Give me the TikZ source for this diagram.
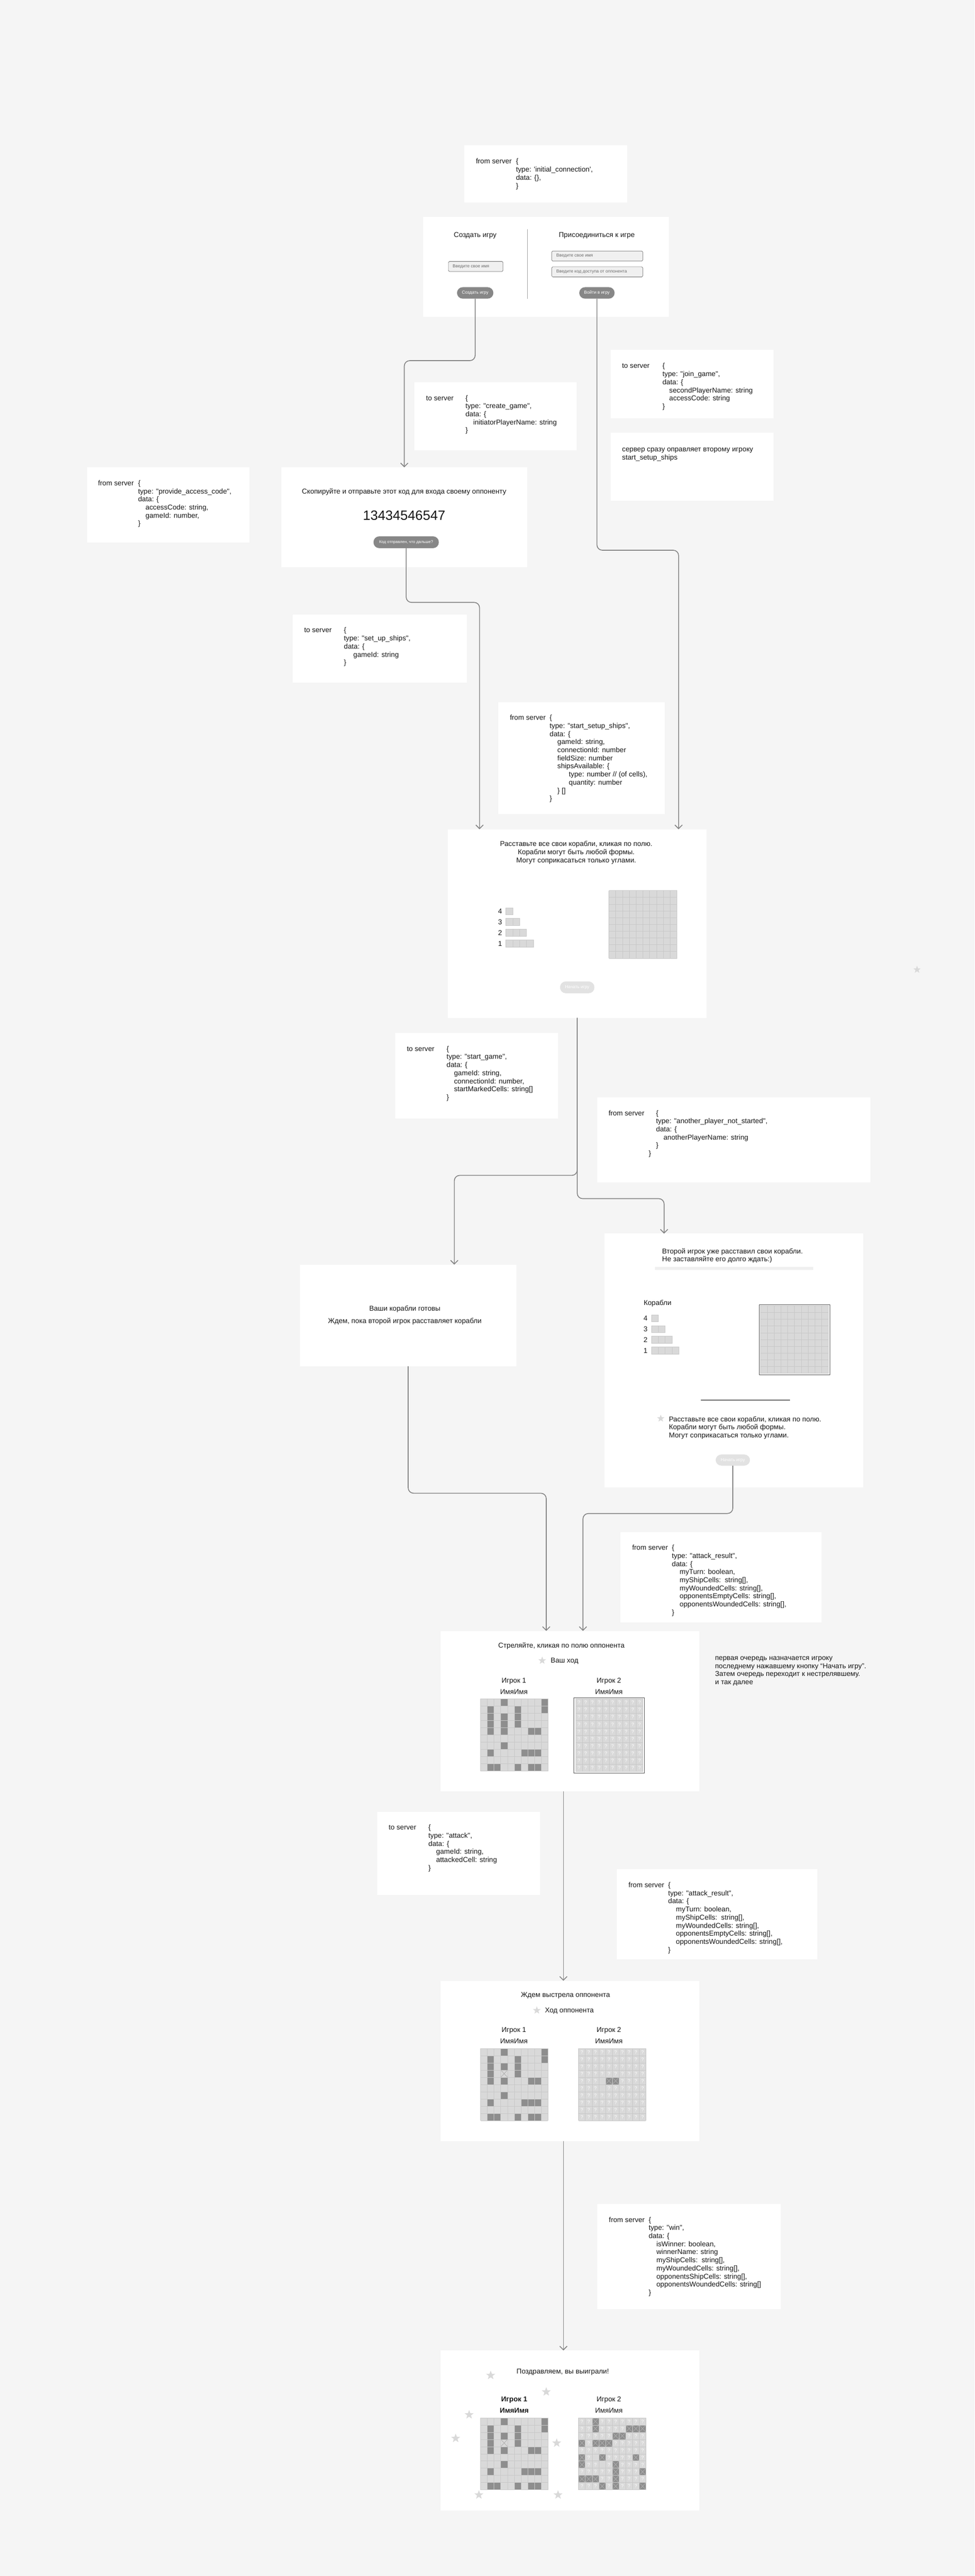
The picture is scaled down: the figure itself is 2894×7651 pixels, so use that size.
\documentclass[tikz,border=0pt]{standalone}
\usepackage{fontspec}
\newfontfamily\cf{Liberation Sans}
\usetikzlibrary{arrows.meta,shapes.geometric}
\definecolor{bgc}{HTML}{F5F5F5}
\definecolor{linec}{HTML}{858585}
\definecolor{btnc}{HTML}{878787}
\definecolor{lbtnc}{HTML}{E2E2E2}
\definecolor{cellc}{HTML}{D9D9D9}
\definecolor{glc}{HTML}{C8C8C8}
\definecolor{darkc}{HTML}{8E8E8E}
\definecolor{xdc}{HTML}{B4B4B4}
\definecolor{xlc}{HTML}{A8A8A8}
\definecolor{inpc}{HTML}{F0F0F0}
\definecolor{phc}{HTML}{6B6B6B}
\definecolor{starc}{HTML}{D9D9D9}
\definecolor{borderc}{HTML}{555555}
\definecolor{txtc}{HTML}{161616}
\definecolor{divc}{HTML}{A0A0A0}
\newcommand\I[1]{\hspace*{#1pt}}
\newcommand\cellat[3]{%
 \pgfmathsetmacro\cxa{\gx+(#2)*\cw}%
 \pgfmathsetmacro\cya{\gy+(#1)*\ch}%
 \pgfmathsetmacro\cxb{\cxa+\cw}%
 \pgfmathsetmacro\cyb{\cya+\ch}%
 \ifcase#3\relax
  \node[qm] (\gid-#1-#2) at ({(\cxa+\cxb)/2},{(\cya+\cyb)/2}) {?};%
 \or
  \fill[darkc] (\cxa,\cya) rectangle (\cxb,\cyb);
  \draw[xd] (\cxa,\cya) -- (\cxb,\cyb) (\cxb,\cya) -- (\cxa,\cyb);%
 \or
 \or
  \fill[darkc] (\cxa,\cya) rectangle (\cxb,\cyb);%
 \or
  \draw[xl] (\cxa,\cya) -- (\cxb,\cyb) (\cxb,\cya) -- (\cxa,\cyb);%
 \fi}
\newcommand\gridsetup[5]{\def\gid{#1}\def\gx{#2}\def\gy{#3}\def\cw{#4}\def\ch{#5}%
 \fill[cellc] (\gx,\gy) rectangle ++({10*\cw},{10*\ch});}
\newcommand\gridcells[1]{\foreach \rv [count=\ii from 0] in #1 {\foreach \cv [count=\jj from 0] in \rv {\cellat{\ii}{\jj}{\cv}}}}
\newcommand\allq{\foreach \ii in {0,...,9}{\foreach \jj in {0,...,9}{\cellat{\ii}{\jj}{0}}}}
\newcommand\gridlines{\foreach \k in {0,...,10}{\draw[gl] ({\gx+\k*\cw},\gy) -- ++(0,{10*\ch}); \draw[gl] (\gx,{\gy+\k*\ch}) -- ++({10*\cw},0);}}
\newcommand\shipcells[4]{%
 \foreach \k in {1,...,#3}{\fill[cellc] ({#1+(\k-1)*#4},#2) rectangle ++(#4,#4);}
 \draw[gl] (#1,#2) rectangle ++({#3*#4},#4);
 \foreach \k in {1,...,#3}{\draw[gl] ({#1+\k*#4},#2) -- ++(0,#4);}}
\def\pone{{2,2,2,3,2,2,2,2,2,3},{2,3,2,2,2,3,2,2,2,3},{2,3,2,3,2,3,2,2,2,2},{2,3,2,3,2,3,2,2,2,2},{2,3,2,3,2,2,2,3,3,2},{2,2,2,2,2,2,2,2,2,2},{2,2,2,3,2,2,2,2,2,2},{2,3,2,2,2,2,3,3,3,2},{2,2,2,2,2,2,2,2,2,2},{2,3,3,2,2,3,2,3,3,2}}
\def\ponex{{2,2,2,3,2,2,2,2,2,3},{2,3,2,2,2,3,2,2,2,3},{2,3,2,3,2,3,2,2,2,2},{2,3,2,4,2,3,2,2,2,2},{2,3,2,3,2,2,2,3,3,2},{2,2,2,2,2,2,2,2,2,2},{2,2,2,3,2,2,2,2,2,2},{2,3,2,2,2,2,3,3,3,2},{2,2,2,2,2,2,2,2,2,2},{2,3,3,2,2,3,2,3,3,2}}
\def\ptwow{{0,0,0,0,0,0,0,0,0,0},{0,0,0,0,0,0,0,0,0,0},{0,0,0,0,0,0,0,0,0,0},{0,0,0,0,0,0,0,0,0,0},{0,0,0,2,1,1,0,0,0,0},{0,0,0,2,0,0,0,0,0,0},{0,0,0,0,0,0,0,0,0,0},{0,0,0,0,0,0,0,0,0,0},{0,0,0,0,0,0,0,0,0,0},{0,0,0,0,0,0,0,0,0,0}}
\def\ptwof{{0,0,1,0,0,0,0,0,0,0},{0,0,1,0,0,0,0,1,1,1},{0,0,0,0,0,1,1,0,0,0},{1,0,1,1,1,0,0,0,0,0},{0,0,0,0,0,0,0,0,0,0},{1,0,2,1,0,0,0,0,1,0},{1,0,0,2,0,1,0,0,0,0},{0,0,0,0,0,1,0,0,0,1},{1,1,1,0,0,1,0,0,0,0},{0,0,0,1,0,1,0,0,0,1}}
\tikzset{
 box/.style={fill=white,draw=none,inner sep=0pt,outer sep=0pt,anchor=north west},
 codet/.style={font=\cf\fontsize{21}{24}\selectfont,inner sep=0pt,anchor=base west,text=txtc},
 scrt/.style={font=\cf\fontsize{21}{24}\selectfont,inner sep=0pt,text=txtc},
 btn/.style={fill=btnc,text=white,font=\cf\fontsize{13}{13}\selectfont,rounded corners=17pt,inner sep=0pt},
 lbtn/.style={fill=lbtnc,text=white,font=\cf\fontsize{13}{13}\selectfont,rounded corners=17pt,inner sep=0pt},
 inp/.style={fill=inpc,draw=phc,line width=1pt,rounded corners=3pt,inner sep=0pt,anchor=north west},
 ph/.style={font=\cf\fontsize{13}{13}\selectfont,text=phc,inner sep=0pt,anchor=west},
 conn/.style={draw=linec,line width=2.5pt,rounded corners=16pt,-{Straight Barb[length=11pt,width=22pt]}},
 starn/.style={star,star points=5,star point ratio=2.4,fill=starc,draw=none,inner sep=0pt},
 qm/.style={font=\cf\fontsize{14}{14}\selectfont,text=white,inner sep=0pt},
 gl/.style={draw=glc,line width=1pt},
 xd/.style={draw=xdc,line width=1pt},
 xl/.style={draw=xlc,line width=1pt},
}
\begin{document}
\begin{tikzpicture}[x=1pt,y=-1pt]
\path[use as bounding box] (0,0) rectangle (2894,7651);
\fill[bgc] (0,0) rectangle (2894,7651);

% ---------- boxes ----------
\node[box,minimum width=483pt,minimum height=170pt] (b0) at (1379,432) {};
\node[box,minimum width=730pt,minimum height=297pt] (smain) at (1256,644) {};
\node[box,minimum width=481pt,minimum height=202pt] (b1) at (1231,1135) {};
\node[box,minimum width=484pt,minimum height=203pt] (b2) at (1813,1039) {};
\node[box,minimum width=484pt,minimum height=202pt] (b3) at (1813,1286) {};
\node[box,minimum width=482pt,minimum height=224pt] (b4) at (259,1388) {};
\node[box,minimum width=729pt,minimum height=297pt] (access) at (836,1388) {};
\node[box,minimum width=517pt,minimum height=203pt] (b6) at (869,1825) {};
\node[box,minimum width=494pt,minimum height=332pt] (b7) at (1480,2085) {};
\node[box,minimum width=768pt,minimum height=560pt] (setup) at (1330,2463) {};
\node[box,minimum width=483pt,minimum height=254pt] (b9) at (1174,3068) {};
\node[box,minimum width=811pt,minimum height=253pt] (b10) at (1774,3259) {};
\node[box,minimum width=644pt,minimum height=302pt] (ready) at (890,3756) {};
\node[box,minimum width=768pt,minimum height=754pt] (p2s) at (1795,3664) {};
\node[box,minimum width=596pt,minimum height=268pt] (b13) at (1843,4550) {};
\node[box,minimum width=768pt,minimum height=476pt] (attack) at (1308,4844) {};
\node[box,minimum width=483pt,minimum height=247pt] (b15) at (1120,5381) {};
\node[box,minimum width=595pt,minimum height=268pt] (b16) at (1832,5552) {};
\node[box,minimum width=768pt,minimum height=476pt] (wait) at (1308,5883) {};
\node[box,minimum width=544pt,minimum height=312pt] (b18) at (1774,6546) {};
\node[box,minimum width=768pt,minimum height=475pt] (final) at (1308,6981) {};

% ---------- code texts ----------
\node[codet,font=\cf\fontsize{21}{24.5}\selectfont] (t0) at (1413,486) {\begin{tabular}[t]{@{}l@{}}
\makebox[119pt][l]{from server}\{\\
\I{119}type: 'initial\_connection',\\
\I{119}data: \{\},\\
\I{119}\}
\end{tabular}};
\node[codet] (t1) at (1265,1189) {\begin{tabular}[t]{@{}l@{}}
\makebox[117pt][l]{to server}\{\\
\I{117}type: "create\_game",\\
\I{117}data: \{\\
\I{140}initiatorPlayerName: string\\
\I{117}\}
\end{tabular}};
\node[codet] (t2) at (1847,1094) {\begin{tabular}[t]{@{}l@{}}
\makebox[120pt][l]{to server}\{\\
\I{120}type: "join\_game",\\
\I{120}data: \{\\
\I{140}secondPlayerName: string\\
\I{140}accessCode: string\\
\I{120}\}
\end{tabular}};
\node[codet] (t3) at (1847,1341) {\begin{tabular}[t]{@{}l@{}}
сервер сразу оправляет второму игроку\\
start\_setup\_ships
\end{tabular}};
\node[codet] (t4) at (291,1442) {\begin{tabular}[t]{@{}l@{}}
\makebox[119pt][l]{from server}\{\\
\I{119}type: "provide\_access\_code",\\
\I{119}data: \{\\
\I{141}accessCode: string,\\
\I{141}gameId: number,\\
\I{119}\}
\end{tabular}};
\node[codet] (t6) at (903,1879) {\begin{tabular}[t]{@{}l@{}}
\makebox[118pt][l]{to server}\{\\
\I{118}type: "set\_up\_ships",\\
\I{118}data: \{\\
\I{146}gameId: string\\
\I{118}\}
\end{tabular}};
\node[codet] (t7) at (1514,2139) {\begin{tabular}[t]{@{}l@{}}
\makebox[118pt][l]{from server}\{\\
\I{118}type: "start\_setup\_ships",\\
\I{118}data: \{\\
\I{141}gameId: string,\\
\I{141}connectionId: number\\
\I{141}fieldSize: number\\
\I{141}shipsAvailable: \{\\
\I{175}type: number // (of cells),\\
\I{175}quantity: number\\
\I{141}\} []\\
\I{118}\}
\end{tabular}};
\node[codet] (t9) at (1208,3122) {\begin{tabular}[t]{@{}l@{}}
\makebox[118pt][l]{to server}\{\\
\I{118}type: "start\_game",\\
\I{118}data: \{\\
\I{140}gameId: string,\\
\I{140}connectionId: number,\\
\I{140}startMarkedCells: string[]\\
\I{118}\}
\end{tabular}};
\node[codet] (t10) at (1807,3313) {\begin{tabular}[t]{@{}l@{}}
\makebox[141pt][l]{from server}\{\\
\I{141}type: "another\_player\_not\_started",\\
\I{141}data: \{\\
\I{163}anotherPlayerName: string\\
\I{141}\}\\
\I{119}\}
\end{tabular}};
\node[codet] (t13) at (1877,4604) {\begin{tabular}[t]{@{}l@{}}
\makebox[118pt][l]{from server}\{\\
\I{118}type: "attack\_result",\\
\I{118}data: \{\\
\I{141}myTurn: boolean,\\
\I{141}myShipCells:\ \ string[],\\
\I{141}myWoundedCells: string[],\\
\I{141}opponentsEmptyCells: string[],\\
\I{141}opponentsWoundedCells: string[],\\
\I{118}\}
\end{tabular}};
\node[codet] (t15) at (1154,5435) {\begin{tabular}[t]{@{}l@{}}
\makebox[118pt][l]{to server}\{\\
\I{118}type: "attack",\\
\I{118}data: \{\\
\I{141}gameId: string,\\
\I{141}attackedCell: string\\
\I{118}\}
\end{tabular}};
\node[codet] (t16) at (1866,5606) {\begin{tabular}[t]{@{}l@{}}
\makebox[118pt][l]{from server}\{\\
\I{118}type: "attack\_result",\\
\I{118}data: \{\\
\I{141}myTurn: boolean,\\
\I{141}myShipCells:\ \ string[],\\
\I{141}myWoundedCells: string[],\\
\I{141}opponentsEmptyCells: string[],\\
\I{141}opponentsWoundedCells: string[],\\
\I{118}\}
\end{tabular}};
\node[codet] (t18) at (1808,6600) {\begin{tabular}[t]{@{}l@{}}
\makebox[118pt][l]{from server}\{\\
\I{118}type: "win",\\
\I{118}data: \{\\
\I{141}isWinner: boolean,\\
\I{141}winnerName: string\\
\I{141}myShipCells:\ \ string[],\\
\I{141}myWoundedCells: string[],\\
\I{141}opponentsShipCells: string[],\\
\I{141}opponentsWoundedCells: string[]\\
\I{118}\}
\end{tabular}};

% ---------- main screen ----------
\node[scrt,anchor=base] (tcreate) at (1411,705) {Создать игру};
\node[scrt,anchor=base] (tjoin) at (1772,705) {Присоединиться к игре};
\draw[divc,line width=1pt] (1566,681) -- (1566,887);
\node[inp,minimum width=162pt,minimum height=30pt] (in1) at (1331,776) {};
\node[ph] (ph1) at (1344,791) {Введите свое имя};
\node[inp,minimum width=270pt,minimum height=30pt] (in2) at (1638,745) {};
\node[ph] (ph2) at (1652,760) {Введите свое имя};
\node[inp,minimum width=270pt,minimum height=30pt] (in3) at (1638,792) {};
\node[ph] (ph3) at (1652,807) {Введите код доступа от оппонента};
\node[btn,minimum width=108pt,minimum height=34pt] (cbtn) at (1411,870) {Создать игру};
\node[btn,minimum width=105pt,minimum height=34pt] (jbtn) at (1772.5,870) {Войти в игру};

% ---------- access code screen ----------
\node[scrt,anchor=base] (tcopy) at (1200,1466) {Скопируйте и отправьте этот код для входа своему оппоненту};
\node[scrt,anchor=base,font=\cf\fontsize{40}{40}\selectfont] (tcode) at (1200,1545) {13434546547};
\node[btn,font=\cf\fontsize{12}{12}\selectfont,minimum width=194pt,minimum height=35pt] (abtn) at (1206,1610.5) {Код отправлен, что дальше?};

% ---------- setup screen ----------
\node[scrt,anchor=base] (tsetup) at (1711,2514) {\begin{tabular}[t]{@{}c@{}}Расставьте все свои корабли, кликая по полю.\\Корабли могут быть любой формы.\\Могут соприкасаться только углами.\end{tabular}};
\node[scrt,anchor=base] (n4) at (1485,2714) {4};
\node[scrt,anchor=base] (n3) at (1485,2746) {3};
\node[scrt,anchor=base] (n2) at (1485,2778) {2};
\node[scrt,anchor=base] (n1) at (1485,2810) {1};
\shipcells{1502}{2696}{1}{20.5}
\shipcells{1502}{2728}{2}{20.5}
\shipcells{1502}{2760}{3}{20.5}
\shipcells{1502}{2792}{4}{20.5}
\gridsetup{gs}{1808}{2645}{20.2}{20.1}\gridlines
\node[lbtn,minimum width=102pt,minimum height=35pt] (sbtn) at (1714,2932.5) {Начать игру};

% ---------- ready screen ----------
\node[scrt,anchor=base] (tready) at (1202,3893) {Ваши корабли готовы};
\node[scrt,anchor=base] (twait2) at (1202,3931) {Ждем, пока второй игрок расставляет корабли};

% ---------- second player screen ----------
\node[scrt,anchor=base west,font=\cf\fontsize{21}{23}\selectfont] (tp2) at (1966,3724) {\begin{tabular}[t]{@{}l@{}}Второй игрок уже расставил свои корабли.\\Не заставляйте его долго ждать:)\end{tabular}};
\fill[inpc] (1945,3762) rectangle (2414,3772);
\node[scrt,anchor=base west] (tships) at (1911,3876) {Корабли};
\node[scrt,anchor=base] (m4) at (1917,3923) {4};
\node[scrt,anchor=base] (m3) at (1917,3955) {3};
\node[scrt,anchor=base] (m2) at (1917,3987) {2};
\node[scrt,anchor=base] (m1) at (1917,4019) {1};
\shipcells{1934}{3905}{1}{20.4}
\shipcells{1934}{3937}{2}{20.4}
\shipcells{1934}{3969}{3}{20.4}
\shipcells{1934}{4001}{4}{20.4}
\draw[borderc,line width=1.5pt] (2255,3875) rectangle (2465,4083);
\gridsetup{gp}{2258}{3878}{20.2}{20.1}\gridlines
\draw[black,line width=1.5pt] (2081,4159) -- (2346,4159);
\node[starn,minimum size=23pt] (stp2) at (1962,4213) {};
\node[scrt,anchor=base west] (tp2b) at (1986,4222) {\begin{tabular}[t]{@{}l@{}}Расставьте все свои корабли, кликая по полю.\\Корабли могут быть любой формы.\\Могут соприкасаться только углами.\end{tabular}};
\node[lbtn,minimum width=102pt,minimum height=33pt] (p2btn) at (2176,4336.5) {Начать игру};

% ---------- attack screen ----------
\node[scrt,anchor=base] (tatt) at (1667,4895) {Стреляйте, кликая по полю оппонента};
\node[starn,minimum size=24pt] (stat) at (1610,4932) {};
\node[scrt,anchor=base west] (tturn) at (1635,4939) {Ваш ход};
\node[scrt,anchor=base] (ap1) at (1526,4998) {Игрок 1};
\node[scrt,anchor=base] (ap1n) at (1526,5032) {ИмяИмя};
\node[scrt,anchor=base] (ap2) at (1808,4998) {Игрок 2};
\node[scrt,anchor=base] (ap2n) at (1808,5032) {ИмяИмя};
\gridsetup{ga}{1427}{5045}{20}{21.5}\gridcells{\pone}\gridlines
\draw[borderc,line width=1.5pt] (1704,5042) rectangle (1914,5266);
\gridsetup{gb}{1709}{5046}{20}{21.5}\allq\gridlines
\node[scrt,anchor=base west] (note) at (2123,4931) {\begin{tabular}[t]{@{}l@{}}первая очередь назначается игроку\\последнему нажавшему кнопку “Начать игру”.\\Затем очередь переходит к нестрелявшему.\\и так далее\end{tabular}};

% ---------- wait screen ----------
\node[scrt,anchor=base] (twt) at (1679,5932) {Ждем выстрела оппонента};
\node[starn,minimum size=24pt] (stw) at (1594,5971) {};
\node[scrt,anchor=base west] (tturn2) at (1618,5978) {Ход оппонента};
\node[scrt,anchor=base] (wp1) at (1526,6036) {Игрок 1};
\node[scrt,anchor=base] (wp1n) at (1526,6069) {ИмяИмя};
\node[scrt,anchor=base] (wp2) at (1808,6036) {Игрок 2};
\node[scrt,anchor=base] (wp2n) at (1808,6069) {ИмяИмя};
\gridsetup{gc}{1427}{6084}{20}{21.4}\gridcells{\ponex}\gridlines
\gridsetup{gd}{1718}{6084}{20}{21.4}\gridcells{\ptwow}\gridlines

% ---------- final screen ----------
\node[scrt,anchor=base] (twin) at (1671,7051) {Поздравляем, вы выиграли!};
\node[scrt,anchor=base,font=\cf\bfseries\fontsize{21}{24}\selectfont] (fp1) at (1527,7133) {Игрок 1};
\node[scrt,anchor=base,font=\cf\bfseries\fontsize{21}{24}\selectfont] (fp1n) at (1527,7167) {ИмяИмя};
\node[scrt,anchor=base] (fp2) at (1808,7133) {Игрок 2};
\node[scrt,anchor=base] (fp2n) at (1808,7167) {ИмяИмя};
\gridsetup{ge}{1427}{7181}{20}{21.4}\gridcells{\ponex}\gridlines
\gridsetup{gf}{1718}{7181}{20}{21.4}\gridcells{\ptwof}\gridlines
\node[starn,minimum size=28pt] (sf1) at (1457,7055) {};
\node[starn,minimum size=28pt] (sf2) at (1622,7104) {};
\node[starn,minimum size=28pt] (sf3) at (1393,7172) {};
\node[starn,minimum size=28pt] (sf4) at (1353,7242) {};
\node[starn,minimum size=28pt] (sf5) at (1653,7256) {};
\node[starn,minimum size=28pt] (sf6) at (1422,7410) {};
\node[starn,minimum size=28pt] (sf7) at (1657,7410) {};

% stray star at right
\node[starn,minimum size=23pt] (sfar) at (2723,2880) {};

% ---------- connectors ----------
\draw[conn] (cbtn.south) -- ++(0,184) -| (access.north);
\draw[conn] (jbtn.south) -- ++(0,747) -| ([xshift=301pt]setup.north);
\draw[conn] (abtn.south) -- ++(0,161) -| ([xshift=-290pt]setup.north);
\draw[conn] (setup.south) -- ++(0,468) -| ([xshift=137pt]ready.north);
\draw[conn] (setup.south) -- ++(0,537) -| ([xshift=-207pt]p2s.north);
\draw[conn] (ready.south) -- ++(0,377) -| ([xshift=-70pt]attack.north);
\draw[conn] (p2btn.south) -- ++(0,142) -| ([xshift=39pt]attack.north);
\draw[conn] ([xshift=-19pt]attack.south) -- ([xshift=-19pt]wait.north);
\draw[conn] ([xshift=-19pt]wait.south) -- ([xshift=-19pt]final.north);
\end{tikzpicture}
\end{document}
